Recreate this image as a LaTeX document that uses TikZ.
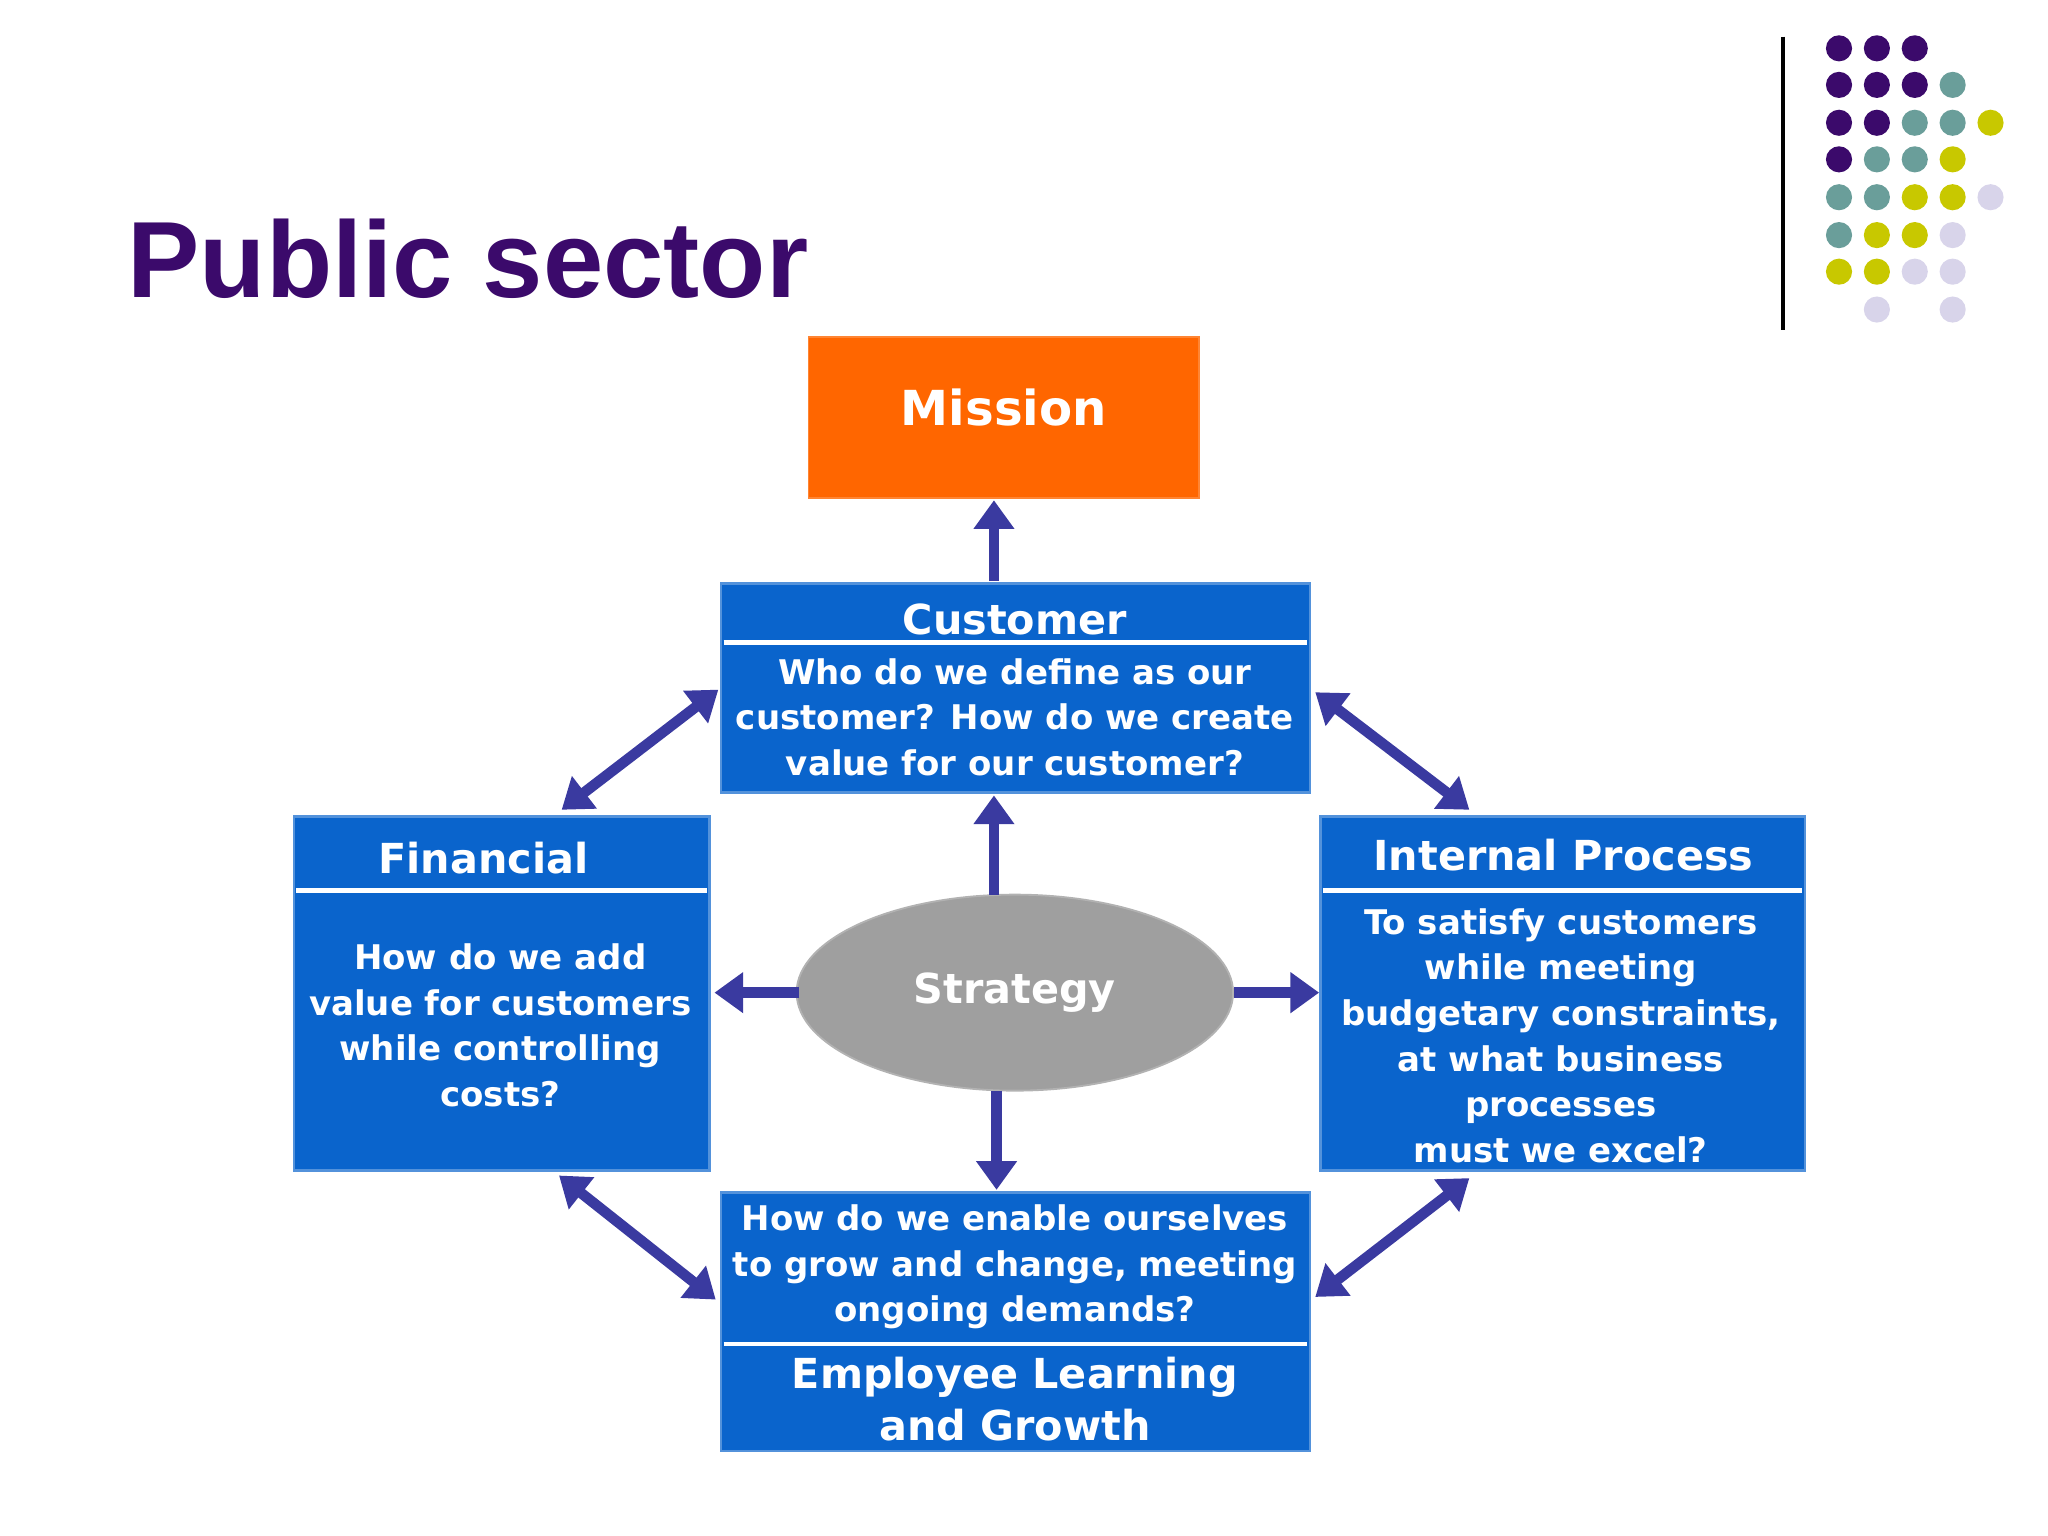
\documentclass[tikz,border=0pt]{standalone}
\usepackage{fontspec}
\setmainfont{DejaVu Sans}
\newfontfamily\titlefont{Liberation Sans}
\usetikzlibrary{arrows.meta,shapes.geometric}
\definecolor{purp}{HTML}{3B0A6B}
\definecolor{teal2}{HTML}{6A9E9A}
\definecolor{yel}{HTML}{C8C800}
\definecolor{lav}{HTML}{D8D4EA}
\definecolor{boxblue}{HTML}{0A64CC}
\definecolor{arr}{HTML}{3A3AA0}
\definecolor{orng}{HTML}{FF6600}
\tikzset{
  bx/.style={fill=boxblue,draw=boxblue!70!white,line width=0.6pt},
  tt/.style={text=white,font=\bfseries\fontsize{9}{11}\selectfont,align=center},
  bt/.style={text=white,font=\bfseries\fontsize{7.4}{9.95}\selectfont,align=center},
  ar/.style={draw=arr,line width=2.3pt,-{Triangle[length=0.22cm,width=0.3cm]}},
  dar/.style={draw=arr,line width=2.3pt,{Triangle[length=0.22cm,width=0.3cm]}-{Triangle[length=0.22cm,width=0.3cm]}},
  dot/.style={circle,inner sep=0pt,minimum size=0.2cm}
}
\begin{document}
\begin{tikzpicture}[x=0.01cm,y=-0.01cm]
\useasboundingbox (0,0) rectangle (1568,1176);
\node[anchor=base west,inner sep=0,text=purp,font=\titlefont\bfseries\fontsize{23.6}{28}\selectfont] (title) at (97,228) {Public sector};
\draw[line width=0.8pt] (1365,28) coordinate (l1) -- (1365,253) coordinate (l2);
% dots
\foreach \r/\y/\cols in {1/37/{1/purp,2/purp,3/purp},2/65/{1/purp,2/purp,3/purp,4/teal2},3/94/{1/purp,2/purp,3/teal2,4/teal2,5/yel},4/122/{1/purp,2/teal2,3/teal2,4/yel},5/151/{1/teal2,2/teal2,3/yel,4/yel,5/lav},6/180/{1/teal2,2/yel,3/yel,4/lav},7/208/{1/yel,2/yel,3/lav,4/lav},8/237/{2/lav,4/lav}}{
  \foreach \c/\col in \cols {
    \node[dot,fill=\col] (d\r\c) at ({1408+(\c-1)*29},\y) {};
  }
}
% boxes
\draw[fill=orng,draw=orng!80!white] (619,258) rectangle (918,381);
\node[text=white,font=\bfseries\fontsize{10.5}{13}\selectfont] (mission) at (768.5,312) {Mission};
\draw[bx] (552,447) rectangle (1003,607);
\draw[white,line width=1pt] (554,492) -- (1001,492);
\node[tt] (custt) at (777,474) {Customer};
\node[bt] (custb) at (777,549) {Who do we define as our\\customer? How do we create\\value for our customer?};

\draw[bx] (225,625) rectangle (543,896);
\draw[white,line width=1pt] (227,682) -- (541,682);
\node[tt] (fint) at (370,657) {Financial};
\node[bt] (finb) at (383,785) {How do we add\\value for customers\\while controlling\\costs?};

\draw[bx] (1011,625) rectangle (1382,896);
\draw[white,line width=1pt] (1013,682) -- (1380,682);
\node[tt] (ipt) at (1197,655) {Internal Process};
\node[bt] (ipb) at (1195,793) {To satisfy customers\\while meeting\\budgetary constraints,\\at what business\\processes\\must we excel?};

\draw[bx] (552,913) rectangle (1003,1111);
\draw[white,line width=1pt] (554,1029) -- (1001,1029);
\node[bt] (elb) at (777,970) {How do we enable ourselves\\to grow and change, meeting\\ongoing demands?};
\node[tt,font=\bfseries\fontsize{9}{11.3}\selectfont] (elt) at (777,1071) {Employee Learning\\and Growth};

\node[ellipse,fill=gray!75,draw=gray!60,minimum width=3.34cm,minimum height=1.5cm,text=white,font=\bfseries\fontsize{9}{11}\selectfont] (strat) at (777,760) {Strategy};

% arrows
\draw[ar] (761,445) -- (761,383);
\draw[ar] (761,685) -- (761,609);
\draw[ar] (612,760) -- (547,760);
\draw[ar] (945,760) -- (1010,760);
\draw[ar] (763,835) -- (763,911);
\draw[dar] (430,620) -- (550,528);
\draw[dar] (1007,530) -- (1125,620);
\draw[dar] (428,900) -- (548,995);
\draw[dar] (1007,993) -- (1125,902);
\end{tikzpicture}
\end{document}
